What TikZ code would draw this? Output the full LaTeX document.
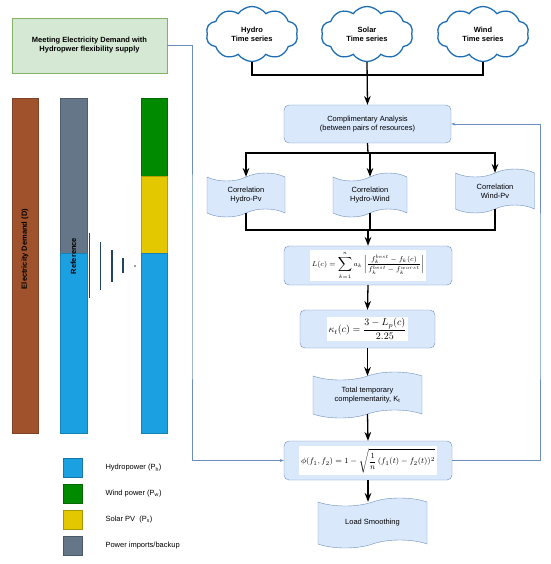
\documentclass[tikz,border=0pt]{standalone}
\usepackage{fontspec}
\setsansfont{Liberation Sans}
\usetikzlibrary{arrows.meta,shapes.symbols}
\definecolor{boxfill}{HTML}{DAE8FC}
\definecolor{boxline}{HTML}{6C8EBF}
\definecolor{cloudline}{HTML}{1F6EB4}
\definecolor{greenfill}{HTML}{D5E8D4}
\definecolor{greenline}{HTML}{82B366}
\definecolor{demand}{HTML}{A0522D}
\definecolor{backup}{HTML}{647687}
\definecolor{hydro}{HTML}{1BA1E2}
\definecolor{wind}{HTML}{008A00}
\definecolor{solar}{HTML}{E3C800}
\definecolor{signal}{HTML}{23445D}
\newcommand{\lbl}{\sffamily\fontsize{7.5}{9}\selectfont}

\begin{document}
\begin{tikzpicture}[>=Stealth,x=1pt,y=-1pt,
  cloudbox/.style={cloud,cloud puffs=10,cloud puff arc=110,aspect=1.7,draw=cloudline,line width=1.3pt,fill=white,minimum width=92pt,minimum height=55pt,align=center,font=\lbl\bfseries,inner sep=0pt},
  procbox/.style={draw=boxline,fill=boxfill,rounded corners=5pt,align=center,font=\lbl,inner sep=0pt},
  tapebox/.style={tape,draw=boxline,fill=boxfill,tape bend height=8pt,align=center,font=\lbl,inner sep=0pt},
  flow/.style={line width=1.3pt,black},
  feed/.style={boxline,line width=0.7pt,-{Stealth[length=4pt]}},
  swatch/.style={minimum size=19pt,inner sep=0pt,draw=#1!75!black,fill=#1}]
\useasboundingbox (0,0) rectangle (550,564);

% demand side
\node[draw=greenline,fill=greenfill,minimum width=155pt,minimum height=55pt,align=center,font=\lbl\bfseries] (goal) at (89.5,45.5) {Meeting Electricity Demand with\\Hydropwer flexibility supply};

\fill[demand,draw=demand!80!black] (12,98) rectangle (38,433);
\fill[backup,draw=backup!80!black] (60,98) rectangle (87,253);
\fill[hydro,draw=hydro!80!black] (60,253) rectangle (87,433);
\fill[wind,draw=wind!80!black] (141,98) rectangle (167,176);
\fill[solar,draw=solar!80!black] (141,176) rectangle (167,253);
\fill[hydro,draw=hydro!80!black] (141,253) rectangle (167,433);
\node[rotate=90,font=\lbl\bfseries] (demandlbl) at (25,249) {Electricity Demand (D)};
\node[rotate=90,font=\lbl\bfseries] (reflbl) at (73.5,256) {Reference};
\foreach \x/\h in {89.5/32.5,100.5/24,112/16,123/7.5}
  \draw[signal,line width=1.2pt] (\x,265.5-\h) -- (\x,265.5+\h);
\fill[signal] (135,266) circle (0.8pt);

% legend
\node[swatch=hydro] (keyh) at (73,468) {};
\node[swatch=wind] (keyw) at (73,494) {};
\node[swatch=solar] (keys) at (73,520) {};
\node[swatch=backup] (keyb) at (73,546) {};
\node[font=\lbl,anchor=west] at (102,468) {Hydropower (P\textsubscript{h})};
\node[font=\lbl,anchor=west] at (102,494) {Wind power (P\textsubscript{w})};
\node[font=\lbl,anchor=west] at (102,520) {Solar PV~ (P\textsubscript{s})};
\node[font=\lbl,anchor=west] at (102,546) {Power imports/backup};

% resources
\node[cloudbox] (hydrots) at (252,34) {Hydro\\Time series};
\node[cloudbox] (solarts) at (367,34) {Solar\\Time series};
\node[cloudbox] (windts) at (483,34) {Wind\\Time series};
\coordinate (tsjoin) at (368,75);

% method chain
\node[procbox,minimum width=167pt,minimum height=38pt] (comp) at (367.5,124) {Complimentary Analysis\\(between pairs of resources)};
\coordinate (split) at (368,153);
\node[tapebox,minimum width=78pt,minimum height=44pt] (corrhp) at (246,195) {Correlation\\Hydro-Pv};
\node[tapebox,minimum width=74pt,minimum height=44pt] (corrhw) at (370,195) {Correlation\\Hydro-Wind};
\node[tapebox,minimum width=79pt,minimum height=44pt] (corrwp) at (495,191) {Correlation\\Wind-Pv};
\coordinate (merge) at (368,230);
\node[procbox,minimum width=168pt,minimum height=39pt] (lossbox) at (368,265.5)
  {\setlength{\fboxsep}{1.5pt}\colorbox{white}{\fontsize{7}{8}\selectfont$\displaystyle L(c)=\sum_{k=1}^{n}a_k\left|\frac{f_k^{best}-f_k(c)}{f_k^{best}-f_k^{worst}}\right|$}};
\node[procbox,minimum width=135pt,minimum height=38pt] (kappabox) at (367.5,329)
  {\setlength{\fboxsep}{1.5pt}\colorbox{white}{\fontsize{10}{12}\selectfont$\displaystyle \kappa_t(c)=\frac{3-L_p(c)}{2.25}$}};
\node[tapebox,minimum width=109pt,minimum height=46pt] (total) at (367.5,395) {Total temporary\\complementarity, K\textsubscript{t}};
\node[procbox,minimum width=168pt,minimum height=39pt] (phibox) at (368,460.5)
  {\setlength{\fboxsep}{2pt}\colorbox{white}{\fontsize{8}{9}\selectfont$\displaystyle \phi(f_1,f_2)=1-\sqrt{\frac{1}{n}\,(f_1(t)-f_2(t))^2}$}};
\node[tapebox,minimum width=109pt,minimum height=50pt] (smooth) at (372.5,523) {Load Smoothing};

% connectors
\draw[flow] (hydrots.south) |- (tsjoin) -| (windts.south);
\draw[flow,->] (solarts.south) -- (comp.north);
\draw[flow] (comp.south) -- (split);
\draw[flow,->] (split) -| (corrhp.north);
\draw[flow,->] (split) -| (corrwp.north);
\draw[flow,->] (split) -- (split -| corrhw.north) -- (corrhw.north);
\draw[flow] (corrhp.south) |- (merge);
\draw[flow] (corrwp.south) |- (merge);
\draw[flow] (corrhw.south) -- (corrhw.south |- merge);
\draw[flow,->] (merge) -- (lossbox.north);
\draw[flow,->] (lossbox.south) -- (kappabox.north);
\draw[flow,->] (kappabox.south) -- (total.north);
\draw[flow,->] (total.south) -- (phibox.north);
\draw[flow,->] (phibox.south) -- (phibox.south |- smooth.north);

\coordinate (backx) at (540,300);
\coordinate (goalx) at (192,300);
\draw[feed] (phibox.east) -| (backx) |- (comp.east);
\draw[feed] (goal.east) -| (goalx) |- (phibox.west);
\end{tikzpicture}
\end{document}
